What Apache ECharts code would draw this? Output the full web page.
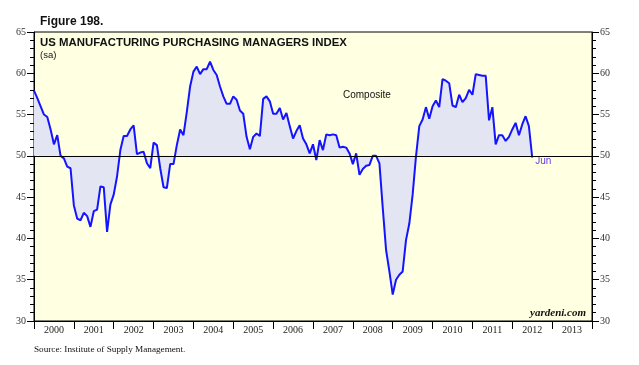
<!DOCTYPE html>
<html>
<head>
<meta charset="utf-8">
<script src="https://cdn.jsdelivr.net/npm/echarts@6/dist/echarts.min.js"></script>
<style>
html,body{margin:0;padding:0;background:#fff;}
#chart{width:639px;height:365px;}
</style>
</head>
<body>
<div id="chart"></div>
<script>
// ISM manufacturing PMI (sa), monthly; first point is Dec 1999, plotted at month end
const firstPoint = [1999, 12];
const v1999 = [57.9];
const v2000 = [57.0, 56.0, 55.0, 54.7, 53.2, 51.4, 52.5, 50.0, 49.7, 48.7, 48.5, 44.0];
const v2001 = [42.4, 42.2, 43.1, 42.7, 41.4, 43.3, 43.5, 46.3, 46.2, 40.8, 44.1, 45.3];
const v2002 = [47.5, 50.7, 52.4, 52.4, 53.2, 53.7, 50.2, 50.4, 50.5, 49.1, 48.5, 51.6];
const v2003 = [51.3, 48.5, 46.2, 46.1, 49.0, 49.0, 51.3, 53.2, 52.5, 55.3, 58.4, 60.2];
const v2004 = [60.8, 59.9, 60.5, 60.5, 61.4, 60.4, 59.8, 58.4, 57.2, 56.3, 56.3, 57.2];
const v2005 = [56.8, 55.5, 55.1, 52.3, 50.8, 52.3, 52.7, 52.4, 56.9, 57.2, 56.6, 55.1];
const v2006 = [55.1, 55.8, 54.4, 55.2, 53.6, 52.1, 53.0, 53.7, 52.1, 51.4, 50.3, 51.4];
const v2007 = [49.5, 51.9, 50.7, 52.6, 52.5, 52.6, 52.5, 51.0, 51.1, 51.0, 50.3, 49.0];
const v2008 = [50.3, 47.7, 48.4, 48.8, 48.9, 50.0, 50.0, 49.1, 43.7, 38.6, 36.0, 33.2];
const v2009 = [35.0, 35.6, 36.0, 39.8, 41.8, 45.3, 49.9, 53.6, 54.4, 55.9, 54.5, 56.0];
const v2010 = [56.7, 55.9, 59.3, 59.1, 58.8, 56.1, 55.9, 57.4, 56.5, 57.0, 58.0, 57.4];
const v2011 = [59.9, 59.8, 59.7, 59.7, 54.3, 55.9, 51.4, 52.5, 52.5, 51.8, 52.3, 53.2];
const v2012 = [54.0, 52.5, 53.8, 54.8, 53.6, 49.8];
const yearLabels = ['2000','2001','2002','2003','2004','2005','2006','2007','2008','2009','2010','2011','2012','2013'];
const yTicks = {min: 30, max: 65, step: 5};
const refLevel = 50;
const lastLabel = 'Jun';

const allValues = [].concat(v1999, v2000, v2001, v2002, v2003, v2004, v2005, v2006, v2007, v2008, v2009, v2010, v2011, v2012);
const seriesData = allValues.map((v, i) => {
  const mIdx = firstPoint[1] - 1 + i;
  const y = firstPoint[0] + Math.floor(mIdx / 12);
  const m = (mIdx % 12) + 1;
  return [y + m / 12, v];
});

const serif = '"Liberation Serif", "Times New Roman", serif';
const sans = '"Liberation Sans", Arial, sans-serif';

const yAxisCommon = {
  type: 'value', min: yTicks.min, max: yTicks.max, interval: yTicks.step,
  axisLine: {show: true, lineStyle: {color: '#000', width: 1}},
  axisTick: {show: true, length: 7, lineStyle: {color: '#000'}},
  minorTick: {show: true, splitNumber: 5, length: 4, lineStyle: {color: '#000'}},
  splitLine: {show: false},
  axisLabel: {fontFamily: serif, fontSize: 10, color: '#333', margin: 8}
};

const chart = echarts.init(document.getElementById('chart'), null, {renderer: 'canvas'});
chart.setOption({
  animation: false,
  backgroundColor: '#ffffff',
  grid: {left: 34, right: 47, top: 32, bottom: 44, show: true, backgroundColor: '#FFFFE2', borderColor: '#000', borderWidth: 1},
  xAxis: [
    {type: 'value', min: 2000, max: 2014, interval: 1,
     axisLine: {show: true, lineStyle: {color: '#000'}},
     axisTick: {show: true, length: 8, lineStyle: {color: '#000'}},
     axisLabel: {show: false}, splitLine: {show: false}},
    {type: 'category', data: yearLabels, boundaryGap: true, position: 'bottom',
     axisLine: {show: false}, axisTick: {show: false}, splitLine: {show: false},
     axisLabel: {fontFamily: serif, fontSize: 10, color: '#222', margin: 4}}
  ],
  yAxis: [
    Object.assign({position: 'left'}, yAxisCommon),
    Object.assign({position: 'right'}, yAxisCommon)
  ],
  series: [{
    type: 'line', xAxisIndex: 0, yAxisIndex: 0,
    data: seriesData, symbol: 'none', showSymbol: false,
    lineStyle: {color: '#1414ff', width: 2},
    itemStyle: {color: '#1414ff'},
    areaStyle: {origin: refLevel, color: '#E3E5F2', opacity: 1},
    endLabel: {show: true, formatter: lastLabel, color: '#6a3ce6', fontFamily: sans, fontSize: 10, distance: 3, offset: [0, 4]},
    markLine: {silent: true, symbol: 'none', label: {show: false},
      lineStyle: {color: '#000', width: 1, type: 'solid'},
      data: [{yAxis: refLevel}]},
    z: 3
  }],
  graphic: [
    {type: 'text', left: 40, top: 16, style: {text: 'Figure 198.', font: 'bold 12px ' + sans, fill: '#111'}},
    {type: 'text', left: 40, top: 37, style: {text: 'US MANUFACTURING PURCHASING MANAGERS INDEX', font: 'bold 11.4px ' + sans, fill: '#111'}},
    {type: 'text', left: 40, top: 50, style: {text: '(sa)', font: '9.5px ' + sans, fill: '#111'}},
    {type: 'text', left: 343, top: 90, style: {text: 'Composite', font: '10px ' + sans, fill: '#111'}},
    {type: 'text', right: 53, top: 308, style: {text: 'yardeni.com', font: 'italic bold 11px ' + serif, fill: '#111'}},
    {type: 'text', left: 34, top: 345, style: {text: 'Source: Institute of Supply Management.', font: '9.2px ' + serif, fill: '#111'}}
  ]
});
</script>
</body>
</html>
